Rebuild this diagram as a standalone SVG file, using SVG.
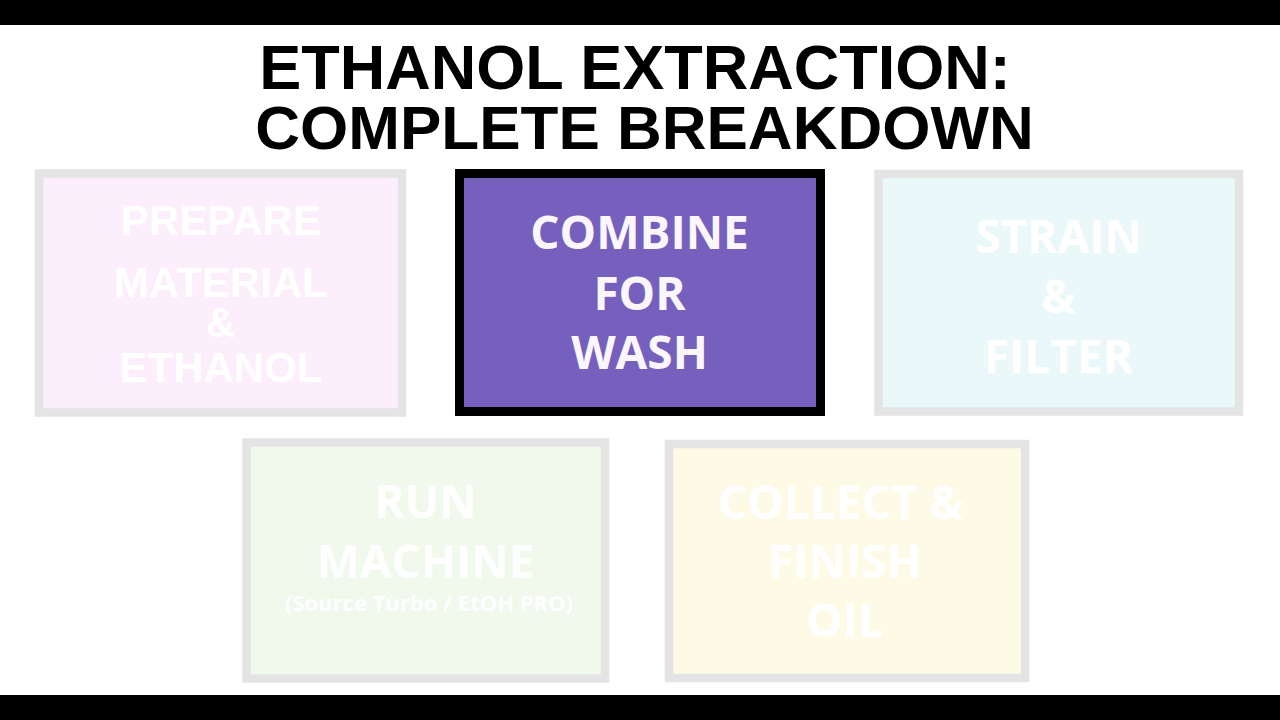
<svg xmlns="http://www.w3.org/2000/svg" width="1280" height="720" viewBox="0 0 1280 720">
  <style>
    .title { font-family: "Liberation Sans", Arial, sans-serif; font-weight: bold; fill: #000; }
    .box { stroke: #E4E4E4; stroke-width: 8.5; }
    .lbl { font-family: "Open Sans", "Noto Sans", sans-serif; font-weight: bold; fill: #FFFFFF; text-anchor: middle; font-size: 46px; }
    .lbl-arial { font-family: "Liberation Sans", Arial, sans-serif; font-weight: bold; fill: #FFFFFF; text-anchor: middle; font-size: 42px; }
  </style>
  <rect x="0" y="0" width="1280" height="720" fill="#FFFFFF"/>
  <rect x="0" y="0" width="1280" height="25" fill="#000"/>
  <rect x="0" y="695" width="1280" height="25" fill="#000"/>

  <g id="title">
    <text class="title" x="635" y="89" font-size="63" text-anchor="middle">ETHANOL EXTRACTION:</text>
    <text class="title" x="644.5" y="149" font-size="62" text-anchor="middle">COMPLETE BREAKDOWN</text>
  </g>

  <g id="connectors"></g>

  <g id="node-prepare">
    <rect class="box" x="39" y="173.5" width="363" height="239" fill="#FCEEFB"/>
    <text class="lbl-arial" x="221" y="235">PREPARE</text>
    <text class="lbl-arial" x="221" y="297">MATERIAL</text>
    <text class="lbl-arial" x="221" y="337" font-size="37">&amp;</text>
    <text class="lbl-arial" x="221" y="382">ETHANOL</text>
  </g>

  <g id="node-combine">
    <rect x="459.5" y="173.5" width="361" height="238" fill="#7660BD" stroke="#000" stroke-width="9"/>
    <text class="lbl" x="639.5" y="249" fill="#FBF6FB" style="fill:#FBF6FB">COMBINE</text>
    <text class="lbl" x="639.5" y="310" style="fill:#FBF6FB">FOR</text>
    <text class="lbl" x="639.5" y="369" style="fill:#FBF6FB">WASH</text>
  </g>

  <g id="node-strain">
    <rect class="box" x="878.5" y="174" width="360.5" height="237.5" fill="#EAF8FA"/>
    <text class="lbl" x="1058.5" y="253">STRAIN</text>
    <text class="lbl" x="1058.5" y="313">&amp;</text>
    <text class="lbl" x="1058.5" y="373">FILTER</text>
  </g>

  <g id="node-run">
    <rect class="box" x="246.5" y="442.5" width="358.5" height="236" fill="#F0F9EC"/>
    <text class="lbl" x="425.5" y="518">RUN</text>
    <text class="lbl" x="425.5" y="578">MACHINE</text>
    <text class="lbl" x="429" y="611" font-size="22" style="font-size:22px">(Source Turbo / EtOH PRO)</text>
  </g>

  <g id="node-collect">
    <rect class="box" x="669" y="444" width="356" height="234" fill="#FDFAE6"/>
    <text class="lbl" x="841" y="519">COLLECT &amp;</text>
    <text class="lbl" x="845" y="578">FINISH</text>
    <text class="lbl" x="845" y="637">OIL</text>
  </g>
</svg>
